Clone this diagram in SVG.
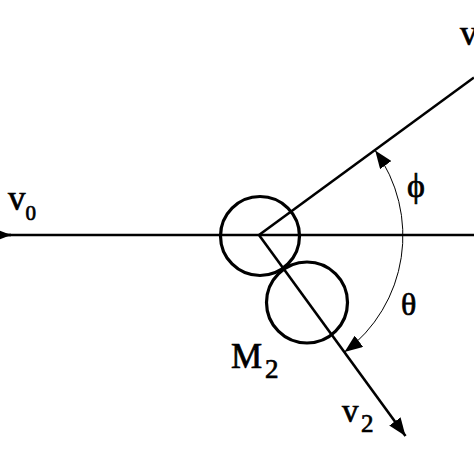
<svg xmlns="http://www.w3.org/2000/svg" width="474" height="474" viewBox="0 0 474 474">
<style>
.ln{stroke:#000;stroke-width:2.6;fill:none}
.ball{stroke:#000;stroke-width:3.2;fill:none}
.arc{stroke:#000;stroke-width:1;fill:none}
.t{font-family:"Liberation Serif","Times New Roman",serif;fill:#000;stroke:#000;stroke-width:0.7}
</style>
<defs>
<marker id="ah" viewBox="-18 -7 19 14" refX="0" refY="0" markerWidth="19" markerHeight="14" markerUnits="userSpaceOnUse" orient="auto">
<path d="M0,0 L-18,-7 L-18,7 z" fill="#000"/>
</marker>
<marker id="ahs" viewBox="-18 -7 19 14" refX="0" refY="0" markerWidth="19" markerHeight="14" markerUnits="userSpaceOnUse" orient="auto-start-reverse">
<path d="M0,0 L-18,-7 L-18,7 z" fill="#000"/>
</marker>
</defs>
<rect width="474" height="474" fill="#fff"/>
<g id="connectors">
<path class="ln" d="M0,235 L474,235"/>
<path class="ln" d="M-8,235 L11,235" marker-end="url(#ah)"/>
<path class="ln" d="M259,235 L474,77.5" stroke-width="2.8"/>
<path class="ln" d="M259,235 L405.5,436" marker-end="url(#ah)"/>
<path class="arc" d="M344.5,352 A145 145 0 0 0 375.2,150.5" marker-start="url(#ahs)" marker-end="url(#ah)"/>
</g>
<g id="m1">
<circle class="ball" cx="260" cy="236" r="39.5"/>
</g>
<g id="m2">
<circle class="ball" cx="307" cy="302.5" r="40.5"/>
</g>
<g id="labels">
<text class="t" x="8" y="210" font-size="35">v</text>
<text class="t" x="25.5" y="219.5" font-size="21">0</text>
<text class="t" x="460" y="45" font-size="35">v</text>
<text class="t" x="231" y="368" font-size="35">M</text>
<text class="t" x="265" y="378" font-size="27">2</text>
<text class="t" x="342" y="422" font-size="33">v</text>
<text class="t" x="361" y="432" font-size="25">2</text>
<text class="t" x="407" y="197" font-size="34">ϕ</text>
<text class="t" x="401" y="315" font-size="32">θ</text>
</g>
</svg>
